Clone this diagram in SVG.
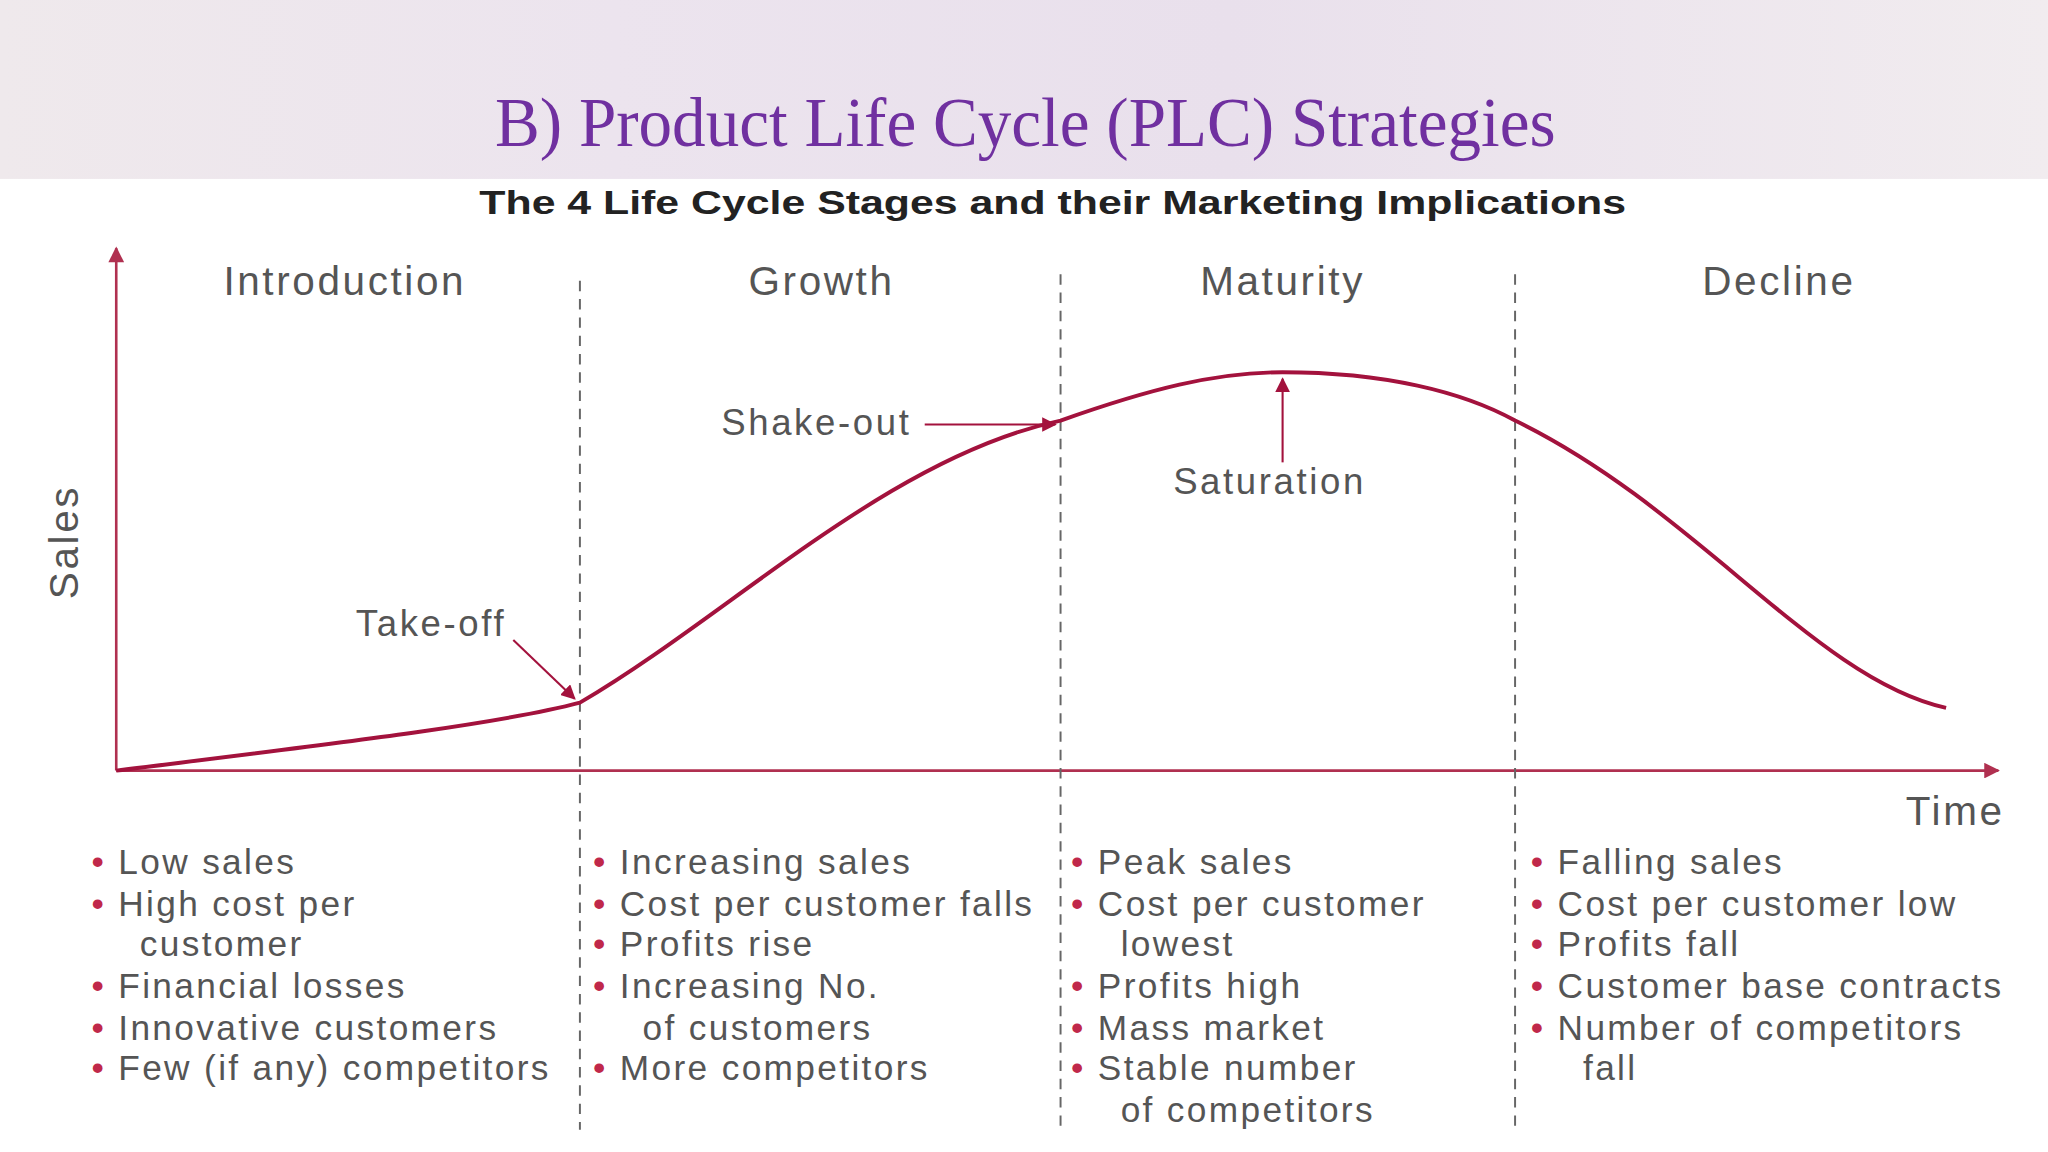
<svg xmlns="http://www.w3.org/2000/svg" width="2048" height="1152" viewBox="0 0 2048 1152">
<defs>
<linearGradient id="bg" x1="0" y1="0" x2="1" y2="0">
<stop offset="0" stop-color="#efe9ec"/><stop offset="0.3" stop-color="#ece4ee"/><stop offset="0.6" stop-color="#e9e0ec"/><stop offset="1" stop-color="#f1ecef"/>
</linearGradient>
<marker id="ah" viewBox="0 0 10 10" refX="9" refY="5" markerWidth="7" markerHeight="7" orient="auto-start-reverse"><path d="M0,0 L10,5 L0,10 z" fill="#a3123d"/></marker>
<marker id="ax" viewBox="0 0 10 10" refX="9" refY="5" markerWidth="8" markerHeight="6" orient="auto"><path d="M0,0 L10,5 L0,10 z" fill="#b03050"/></marker>
<style>
.lbl{font-family:"Liberation Sans",Arial,sans-serif;fill:#555;}
.st{font-size:31px;letter-spacing:2px}
.bl{font-size:27px;fill:#555;letter-spacing:1.8px}
.bu{fill:#c0284a}
.dash{stroke:#666;stroke-width:1.5;stroke-dasharray:8,6;fill:none}
.ptr{stroke:#a3123d;stroke-width:1.6;fill:none}
</style>
</defs>
<rect width="2048" height="1152" fill="#fff"/>
<g transform="scale(1.3061)">
<rect x="0" y="0" width="1568" height="137" fill="url(#bg)"/>
<text x="785" y="112" text-anchor="middle" font-family="Liberation Serif,serif" font-size="54" fill="#7030a0" textLength="812" lengthAdjust="spacingAndGlyphs">B) Product Life Cycle (PLC) Strategies</text>
<text x="806" y="164" text-anchor="middle" font-family="Liberation Sans,Arial,sans-serif" font-weight="bold" font-size="25" fill="#222" textLength="878" lengthAdjust="spacingAndGlyphs">The 4 Life Cycle Stages and their Marketing Implications</text>
<g id="connectors">
<line x1="89" y1="590" x2="89" y2="190" stroke="#b03050" stroke-width="2" marker-end="url(#ax)"/>
<line x1="89" y1="590" x2="1530" y2="590" stroke="#b03050" stroke-width="2" marker-end="url(#ax)"/>
<line class="dash" x1="444" y1="215" x2="444" y2="865"/>
<line class="dash" x1="812" y1="210" x2="812" y2="868"/>
<line class="dash" x1="1160" y1="210" x2="1160" y2="868"/>
<path d="M89,590 C250,570 380,555 444,538 C560,470 680,350 812,322 C880,298 930,285 982,285 C1060,285 1120,300 1160,322 C1300,390 1390,520 1490,542" fill="none" stroke="#a3123d" stroke-width="3"/>
<line class="ptr" x1="393" y1="490" x2="440" y2="535" marker-end="url(#ah)"/>
<line class="ptr" x1="708" y1="325" x2="808" y2="325" marker-end="url(#ah)"/>
<line class="ptr" x1="982" y1="354" x2="982" y2="290" marker-end="url(#ah)"/>
</g>
<g id="stages" class="lbl st">
<text x="264" y="226" text-anchor="middle">Introduction</text>
<text x="629" y="226" text-anchor="middle">Growth</text>
<text x="982" y="226" text-anchor="middle">Maturity</text>
<text x="1362" y="226" text-anchor="middle">Decline</text>
<text transform="translate(60,415) rotate(-90)" text-anchor="middle">Sales</text>
<text x="1497" y="632" text-anchor="middle">Time</text>
</g>
<g id="annotations" class="lbl" font-size="28" letter-spacing="2">
<text x="330" y="487" text-anchor="middle">Take-off</text>
<text x="625" y="333" text-anchor="middle">Shake-out</text>
<text x="972" y="378" text-anchor="middle">Saturation</text>
</g>
<g id="intro" class="lbl bl">
<text x="70" y="669"><tspan class="bu">•</tspan> Low sales</text>
<text x="70" y="701"><tspan class="bu">•</tspan> High cost per</text>
<text x="107" y="732">customer</text>
<text x="70" y="764"><tspan class="bu">•</tspan> Financial losses</text>
<text x="70" y="796"><tspan class="bu">•</tspan> Innovative customers</text>
<text x="70" y="827"><tspan class="bu">•</tspan> Few (if any) competitors</text>
</g>
<g id="growth" class="lbl bl">
<text x="454" y="669"><tspan class="bu">•</tspan> Increasing sales</text>
<text x="454" y="701"><tspan class="bu">•</tspan> Cost per customer falls</text>
<text x="454" y="732"><tspan class="bu">•</tspan> Profits rise</text>
<text x="454" y="764"><tspan class="bu">•</tspan> Increasing No.</text>
<text x="492" y="796">of customers</text>
<text x="454" y="827"><tspan class="bu">•</tspan> More competitors</text>
</g>
<g id="maturity" class="lbl bl">
<text x="820" y="669"><tspan class="bu">•</tspan> Peak sales</text>
<text x="820" y="701"><tspan class="bu">•</tspan> Cost per customer</text>
<text x="858" y="732">lowest</text>
<text x="820" y="764"><tspan class="bu">•</tspan> Profits high</text>
<text x="820" y="796"><tspan class="bu">•</tspan> Mass market</text>
<text x="820" y="827"><tspan class="bu">•</tspan> Stable number</text>
<text x="858" y="859">of competitors</text>
</g>
<g id="decline" class="lbl bl">
<text x="1172" y="669"><tspan class="bu">•</tspan> Falling sales</text>
<text x="1172" y="701"><tspan class="bu">•</tspan> Cost per customer low</text>
<text x="1172" y="732"><tspan class="bu">•</tspan> Profits fall</text>
<text x="1172" y="764"><tspan class="bu">•</tspan> Customer base contracts</text>
<text x="1172" y="796"><tspan class="bu">•</tspan> Number of competitors</text>
<text x="1212" y="827">fall</text>
</g>
</g>
</svg>
